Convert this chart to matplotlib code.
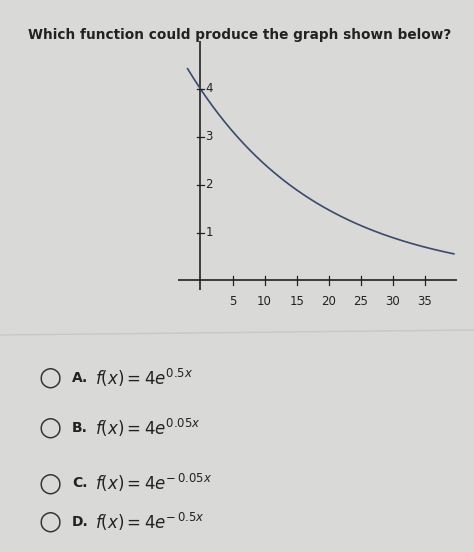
import numpy as np
import matplotlib
matplotlib.use("Agg")
import matplotlib.pyplot as plt

x_ticks = [5, 10, 15, 20, 25, 30, 35]
y_ticks = [1, 2, 3, 4]
amp, rate = 4, -0.05
letters = ["A.", "B.", "C.", "D."]
formulas = [r"$f(x) = 4e^{0.5x}$", r"$f(x) = 4e^{0.05x}$",
            r"$f(x) = 4e^{-\,0.05x}$", r"$f(x) = 4e^{-\,0.5x}$"]
opt_y = [378, 428, 483, 522]

W, H = 474, 552
fig = plt.figure(figsize=(W/100, H/100), dpi=100)
bg = "#d9d9d7"
fig.patch.set_facecolor(bg)
fig.text(28/W, 1-35/H, "Which function could produce the graph shown below?",
         fontsize=9.8, fontweight="bold", va="center", ha="left", color="#222")

ax = fig.add_axes([178/W, 1-290/H, 279/W, 249/H])
ax.set_facecolor(bg)
ax.set_xlim(-3.5, 40)
ax.set_ylim(-0.2, 5)
for s in ax.spines.values():
    s.set_visible(False)
ax.axhline(0, color="#222", lw=1.2)
ax.axvline(0, color="#222", lw=1.2)
xs = np.linspace(-2, 39.5, 300)
ax.plot(xs, amp*np.exp(rate*xs), color="#3a4a6a", lw=1.2)
ax.set_xticks([]); ax.set_yticks([])
for t in x_ticks:
    ax.plot([t, t], [-0.1, 0.1], color="#222", lw=0.9)
    ax.text(t, -0.3, str(t), ha="center", va="top", fontsize=8.5, color="#222")
for t in y_ticks:
    ax.plot([-0.6, 0.6], [t, t], color="#222", lw=0.9)
    ax.text(0.8, t, str(t), ha="left", va="center", fontsize=8.5, color="#222")

fig.add_artist(plt.Line2D([0, 1], [1-335/H, 1-330/H], color="#c8c8c6", lw=1,
                          transform=fig.transFigure))
for L, f, y in zip(letters, formulas, opt_y):
    yf = 1 - y/H
    fig.text(50/W, yf, "○", fontsize=19, ha="center", va="center", color="#333")
    fig.text(72/W, yf, L, fontsize=10, fontweight="bold", ha="left", va="center", color="#222")
    fig.text(95/W, yf, f, fontsize=12, ha="left", va="center", color="#222")

fig.savefig("out.png", dpi=100, facecolor=bg)
